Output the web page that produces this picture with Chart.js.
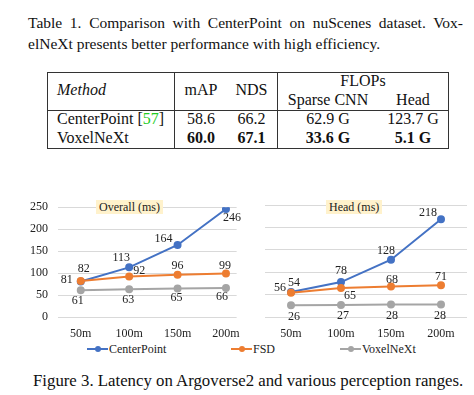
<!DOCTYPE html>
<html>
<head>
<meta charset="utf-8">
<script src="https://cdn.jsdelivr.net/npm/chart.js@4.4.1/dist/chart.umd.min.js"></script>
<style>
  html, body { margin: 0; padding: 0; background: #fff; }
  body { width: 474px; height: 395px; position: relative; overflow: hidden;
         font-family: "Liberation Serif", "Times New Roman", serif; color: #111; }
  .abs { position: absolute; white-space: nowrap; }
  .cap { font-size: 15.5px; line-height: 21px; }
  .tb { font-size: 16px; line-height: 18px; text-align: center; }
  .hline { position: absolute; height: 1px; background: #333; }
  .vline { position: absolute; width: 1px; background: #333; }
  .tag { position: absolute; background: #fff2cc; font-size: 12px; line-height: 14px;
         padding: 0 3px; color: #222; font-family: "Liberation Serif", serif; }
  .leg { position: absolute; font-size: 12px; line-height: 14px; color: #222;
         font-family: "Liberation Serif", serif; }
  .leg i { position: absolute; top: 6px; width: 21px; height: 2px; }
  .leg b { position: absolute; top: 4px; left: 8px; width: 6px; height: 6px; border-radius: 50%; }
  canvas { position: absolute; }
</style>
</head>
<body>

<!-- table caption -->
<div class="abs cap" style="left:28px; top:12px; width:435px; text-align:justify; text-align-last:justify;">Table 1. Comparison with CenterPoint on nuScenes dataset. Vox-</div>
<div class="abs cap" style="left:28px; top:33px;">elNeXt presents better performance with high efficiency.</div>

<!-- table -->
<div class="hline" style="left:47px; top:72px; width:402px;"></div>
<div class="hline" style="left:47px; top:110px; width:402px;"></div>
<div class="hline" style="left:47px; top:148px; width:402px;"></div>
<div class="vline" style="left:47px; top:72px; height:77px;"></div>
<div class="vline" style="left:174px; top:72px; height:77px;"></div>
<div class="vline" style="left:277px; top:72px; height:77px;"></div>
<div class="vline" style="left:448px; top:72px; height:77px;"></div>

<div class="abs tb" style="left:57px; top:81px; font-style:italic;">Method</div>
<div class="abs tb" style="left:176px; top:81px; width:50px;">mAP</div>
<div class="abs tb" style="left:226px; top:81px; width:51px;">NDS</div>
<div class="abs tb" style="left:278px; top:72px; width:170px;">FLOPs</div>
<div class="abs tb" style="left:278px; top:91px; width:100px;">Sparse CNN</div>
<div class="abs tb" style="left:378px; top:91px; width:70px;">Head</div>

<div class="abs tb" style="left:57px; top:110px;">CenterPoint [<span style="color:#22cc22">57</span>]</div>
<div class="abs tb" style="left:176px; top:110px; width:50px;">58.6</div>
<div class="abs tb" style="left:226px; top:110px; width:51px;">66.2</div>
<div class="abs tb" style="left:278px; top:110px; width:100px;">62.9 G</div>
<div class="abs tb" style="left:378px; top:110px; width:70px;">123.7 G</div>

<div class="abs tb" style="left:57px; top:129px;">VoxelNeXt</div>
<div class="abs tb" style="left:176px; top:129px; width:50px; font-weight:bold;">60.0</div>
<div class="abs tb" style="left:226px; top:129px; width:51px; font-weight:bold;">67.1</div>
<div class="abs tb" style="left:278px; top:129px; width:100px; font-weight:bold;">33.6 G</div>
<div class="abs tb" style="left:378px; top:129px; width:70px; font-weight:bold;">5.1 G</div>

<!-- charts -->
<canvas id="overall-chart" width="250" height="149" style="left:0; top:190px;"></canvas>
<canvas id="head-chart" width="224" height="149" style="left:250px; top:190px;"></canvas>

<div class="tag" style="left:96px; top:200px;">Overall (ms)</div>
<div class="tag" style="left:326px; top:200px;">Head (ms)</div>

<!-- legend -->
<div class="leg" style="left:87px; top:342px; padding-left:22px;"><i style="left:0; background:#4472c4"></i><b style="background:#4472c4"></b>CenterPoint</div>
<div class="leg" style="left:231px; top:342px; padding-left:22px;"><i style="left:0; background:#ed7d31"></i><b style="background:#ed7d31"></b>FSD</div>
<div class="leg" style="left:340px; top:342px; padding-left:22px;"><i style="left:0; background:#a5a5a5"></i><b style="background:#a5a5a5"></b>VoxelNeXt</div>

<!-- figure caption -->
<div class="abs" style="left:33px; top:371px; font-size:16.8px; line-height:20px;">Figure 3. Latency on Argoverse2 and various perception ranges.</div>

<script>
// ---------------------------------------------------
// Data
// ---------------------------------------------------
var categories = ['50m', '100m', '150m', '200m'];
var seriesNames = ['CenterPoint', 'FSD', 'VoxelNeXt'];

var overallCenterPoint = [81, 113, 164, 246];
var overallFSD = [82, 92, 96, 99];
var overallVoxelNeXt = [61, 63, 65, 66];

var headCenterPoint = [56, 78, 128, 218];
var headFSD = [54, 65, 68, 71];
var headVoxelNeXt = [26, 27, 28, 28];

var yTicks = [0, 50, 100, 150, 200, 250];

// ---------------------------------------------------
// Styles
// ---------------------------------------------------
var colors = ['#4472c4', '#ed7d31', '#a5a5a5'];
var drawOrder = [1, 0, 2]; // FSD points sit above CenterPoint
var FONT = '"Liberation Serif", serif';

// label offsets (dx, dy) from each point
var overallLabelOffsets = [
  [[-14, -2], [-8, -10], [-14, -6], [6, 9]],
  [[3, -12], [10, -6], [0, -9], [-1, -8]],
  [[-3, 11], [-1, 11], [-1, 9], [-4, 9]]
];
var headLabelOffsets = [
  [[-11, -4], [0, -11], [-5, -9], [-13, -6]],
  [[3, -10], [9, 8], [1, -7], [0, -8]],
  [[3, 11], [2, 11], [1, 11], [-1, 11]]
];

/**
 * Draw value labels next to each point
 */
var valueLabels = {
  id: 'valueLabels',
  afterDatasetsDraw: function(chart, args, opts) {
    var ctx = chart.ctx;
    ctx.save();
    ctx.font = '12px ' + FONT;
    ctx.fillStyle = '#222';
    ctx.textAlign = 'center';
    ctx.textBaseline = 'middle';
    chart.data.datasets.forEach(function(ds, di) {
      var meta = chart.getDatasetMeta(di);
      meta.data.forEach(function(pt, i) {
        var off = opts.offsets[di][i];
        ctx.fillText(String(ds.data[i].y), pt.x + off[0], pt.y + off[1]);
      });
    });
    ctx.restore();
  }
};

function buildDatasets(seriesList) {
  return seriesList.map(function(values, si) {
    return {
      label: seriesNames[si],
      data: values.map(function(v, i) { return { x: i, y: v }; }),
      borderColor: colors[si],
      backgroundColor: colors[si],
      pointBackgroundColor: colors[si],
      pointBorderColor: colors[si],
      pointRadius: 3,
      borderWidth: 2,
      tension: 0,
      order: drawOrder[si]
    };
  });
}

function buildChart(canvasId, seriesList, offsets, opt) {
  var ctx = document.getElementById(canvasId).getContext('2d');
  return new Chart(ctx, {
    type: 'line',
    data: { datasets: buildDatasets(seriesList) },
    plugins: [valueLabels],
    options: {
      responsive: false,
      animation: false,
      devicePixelRatio: 1,
      layout: { padding: { top: 15, right: opt.padRight, left: 0, bottom: 0 } },
      plugins: {
        legend: { display: false },
        tooltip: { enabled: false },
        valueLabels: { offsets: offsets }
      },
      scales: {
        x: {
          type: 'linear',
          min: opt.xMin,
          max: opt.xMax,
          grid: { display: false, drawTicks: false },
          border: { display: false },
          afterBuildTicks: function(scale) {
            scale.ticks = categories.map(function(c, i) { return { value: i }; });
          },
          afterFit: function(scale) { scale.height = 22; },
          ticks: {
            padding: 10,
            color: '#222',
            font: { family: FONT, size: 12 },
            maxRotation: 0,
            callback: function(value) { return categories[value]; }
          }
        },
        y: {
          min: 0,
          max: 250,
          afterBuildTicks: function(scale) {
            scale.ticks = yTicks.map(function(v) { return { value: v }; });
          },
          afterFit: function(scale) { scale.width = opt.yWidth; },
          grid: { color: '#d9d9d9', lineWidth: 1, drawTicks: false },
          border: { display: false },
          ticks: {
            display: opt.showY,
            padding: 10,
            color: '#222',
            font: { family: FONT, size: 12 }
          }
        }
      }
    }
  });
}

buildChart('overall-chart',
  [overallCenterPoint, overallFSD, overallVoxelNeXt],
  overallLabelOffsets,
  { xMin: -0.47, xMax: 3.22, yWidth: 58, padRight: 5, showY: true });

buildChart('head-chart',
  [headCenterPoint, headFSD, headVoxelNeXt],
  headLabelOffsets,
  { xMin: -0.52, xMax: 3.52, yWidth: 15, padRight: 7, showY: false });
</script>
</body>
</html>
